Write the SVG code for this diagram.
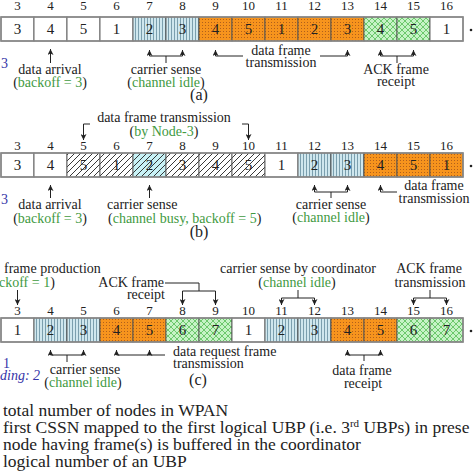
<svg xmlns="http://www.w3.org/2000/svg" width="474" height="474" viewBox="0 0 474 474" font-family="'Liberation Serif', 'Times New Roman', 'DejaVu Serif', serif">
<defs>
<style>
text{fill:#222}
.num{font-size:13px;text-anchor:middle}
.cv{font-size:15px;text-anchor:middle}
.lab{font-size:14px}
.m{text-anchor:middle}
.e{text-anchor:end}
.g{fill:#3f9a3f}
.b{fill:#3434a8}
.cap{font-size:16px;text-anchor:middle}
.leg{font-size:17.5px}
.cell rect{stroke:#555;stroke-width:0.9}
.frame{fill:none;stroke:#8a8a8a;stroke-width:1.6}
.conn path{fill:none;stroke:#222;stroke-width:1}
.w{fill:#fff}.s{fill:url(#pS)}.o{fill:url(#pO)}.gr{fill:url(#pG)}.h{fill:url(#pH)}.ch{fill:url(#pC)}
</style>
<pattern id="pS" width="3" height="3" patternUnits="userSpaceOnUse"><rect width="3" height="3" fill="#cfe7ee"/><rect width="1" height="3" fill="#7b9fae"/></pattern>
<pattern id="pO" width="3" height="3" patternUnits="userSpaceOnUse"><rect width="3" height="3" fill="#f7941d"/><rect x="1" y="1" width="1" height="1" fill="#b0601c"/></pattern>
<pattern id="pG" width="6" height="6" patternUnits="userSpaceOnUse"><rect width="6" height="6" fill="#c6f3c6"/><path d="M0,0 L6,6 M6,0 L0,6" stroke="#6cc86c" stroke-width="1"/></pattern>
<pattern id="pH" width="6" height="6" patternUnits="userSpaceOnUse"><rect width="6" height="6" fill="#fff"/><path d="M-1,1 L1,-1 M0,6 L6,0 M5,7 L7,5" stroke="#222" stroke-width="0.9"/></pattern>
<pattern id="pC" width="6" height="6" patternUnits="userSpaceOnUse"><rect width="6" height="6" fill="#c8f2f6"/><path d="M-1,1 L1,-1 M0,6 L6,0 M5,7 L7,5" stroke="#222" stroke-width="0.9"/></pattern>
<marker id="ah" viewBox="0 0 8 8" refX="8" refY="4" markerWidth="6" markerHeight="6" markerUnits="userSpaceOnUse" orient="auto-start-reverse"><path d="M0,0 L8,4 L0,8 L2,4 z" fill="#222"/></marker>
</defs>
<rect width="474" height="474" fill="#fff"/>

<!-- Row (a) -->
<g id="row-a">
<g class="num-labels">
<text class="num" x="17.5" y="10">3</text><text class="num" x="50.5" y="10">4</text><text class="num" x="83.5" y="10">5</text><text class="num" x="116.5" y="10">6</text><text class="num" x="149.5" y="10">7</text><text class="num" x="182.5" y="10">8</text><text class="num" x="215.5" y="10">9</text><text class="num" x="248.5" y="10">10</text><text class="num" x="281.5" y="10">11</text><text class="num" x="314.5" y="10">12</text><text class="num" x="347.5" y="10">13</text><text class="num" x="380.5" y="10">14</text><text class="num" x="413.5" y="10">15</text><text class="num" x="446.5" y="10">16</text>
</g>
<g id="a3" class="cell"><rect class="w" x="1" y="17" width="33" height="24"/><text class="cv" x="17.5" y="34">3</text></g>
<g id="a4" class="cell"><rect class="w" x="34" y="17" width="33" height="24"/><text class="cv" x="50.5" y="34">4</text></g>
<g id="a5" class="cell"><rect class="w" x="67" y="17" width="33" height="24"/><text class="cv" x="83.5" y="34">5</text></g>
<g id="a6" class="cell"><rect class="w" x="100" y="17" width="33" height="24"/><text class="cv" x="116.5" y="34">1</text></g>
<g id="a7" class="cell"><rect class="s" x="133" y="17" width="33" height="24"/><text class="cv" x="149.5" y="34">2</text></g>
<g id="a8" class="cell"><rect class="s" x="166" y="17" width="33" height="24"/><text class="cv" x="182.5" y="34">3</text></g>
<g id="a9" class="cell"><rect class="o" x="199" y="17" width="33" height="24"/><text class="cv" x="215.5" y="34">4</text></g>
<g id="a10" class="cell"><rect class="o" x="232" y="17" width="33" height="24"/><text class="cv" x="248.5" y="34">5</text></g>
<g id="a11" class="cell"><rect class="o" x="265" y="17" width="33" height="24"/><text class="cv" x="281.5" y="34">1</text></g>
<g id="a12" class="cell"><rect class="o" x="298" y="17" width="33" height="24"/><text class="cv" x="314.5" y="34">2</text></g>
<g id="a13" class="cell"><rect class="o" x="331" y="17" width="33" height="24"/><text class="cv" x="347.5" y="34">3</text></g>
<g id="a14" class="cell"><rect class="gr" x="364" y="17" width="33" height="24"/><text class="cv" x="380.5" y="34">4</text></g>
<g id="a15" class="cell"><rect class="gr" x="397" y="17" width="33" height="24"/><text class="cv" x="413.5" y="34">5</text></g>
<g id="a16" class="cell"><rect class="w" x="430" y="17" width="33" height="24"/><text class="cv" x="446.5" y="34">1</text></g>
<rect class="frame" x="1" y="17" width="462" height="24"/>
<circle cx="471" cy="30" r="1.3" fill="#222"/>
</g>

<!-- Row (b) -->
<g id="row-b">
<g class="num-labels">
<text class="num" x="17.5" y="150">3</text><text class="num" x="50.5" y="150">4</text><text class="num" x="83.5" y="150">5</text><text class="num" x="116.5" y="150">6</text><text class="num" x="149.5" y="150">7</text><text class="num" x="182.5" y="150">8</text><text class="num" x="215.5" y="150">9</text><text class="num" x="248.5" y="150">10</text><text class="num" x="281.5" y="150">11</text><text class="num" x="314.5" y="150">12</text><text class="num" x="347.5" y="150">13</text><text class="num" x="380.5" y="150">14</text><text class="num" x="413.5" y="150">15</text><text class="num" x="446.5" y="150">16</text>
</g>
<g id="b3" class="cell"><rect class="w" x="1" y="153" width="33" height="24"/><text class="cv" x="17.5" y="170">3</text></g>
<g id="b4" class="cell"><rect class="w" x="34" y="153" width="33" height="24"/><text class="cv" x="50.5" y="170">4</text></g>
<g id="b5" class="cell"><rect class="h" x="67" y="153" width="33" height="24"/><text class="cv" x="83.5" y="170">5</text></g>
<g id="b6" class="cell"><rect class="h" x="100" y="153" width="33" height="24"/><text class="cv" x="116.5" y="170">1</text></g>
<g id="b7" class="cell"><rect class="ch" x="133" y="153" width="33" height="24"/><text class="cv" x="149.5" y="170">2</text></g>
<g id="b8" class="cell"><rect class="h" x="166" y="153" width="33" height="24"/><text class="cv" x="182.5" y="170">3</text></g>
<g id="b9" class="cell"><rect class="h" x="199" y="153" width="33" height="24"/><text class="cv" x="215.5" y="170">4</text></g>
<g id="b10" class="cell"><rect class="h" x="232" y="153" width="33" height="24"/><text class="cv" x="248.5" y="170">5</text></g>
<g id="b11" class="cell"><rect class="w" x="265" y="153" width="33" height="24"/><text class="cv" x="281.5" y="170">1</text></g>
<g id="b12" class="cell"><rect class="s" x="298" y="153" width="33" height="24"/><text class="cv" x="314.5" y="170">2</text></g>
<g id="b13" class="cell"><rect class="s" x="331" y="153" width="33" height="24"/><text class="cv" x="347.5" y="170">3</text></g>
<g id="b14" class="cell"><rect class="o" x="364" y="153" width="33" height="24"/><text class="cv" x="380.5" y="170">4</text></g>
<g id="b15" class="cell"><rect class="o" x="397" y="153" width="33" height="24"/><text class="cv" x="413.5" y="170">5</text></g>
<g id="b16" class="cell"><rect class="o" x="430" y="153" width="33" height="24"/><text class="cv" x="446.5" y="170">1</text></g>
<rect class="frame" x="1" y="153" width="462" height="24"/>
<circle cx="471" cy="166" r="1.3" fill="#222"/>
</g>

<!-- Row (c) -->
<g id="row-c">
<g class="num-labels">
<text class="num" x="17.5" y="315">3</text><text class="num" x="50.5" y="315">4</text><text class="num" x="83.5" y="315">5</text><text class="num" x="116.5" y="315">6</text><text class="num" x="149.5" y="315">7</text><text class="num" x="182.5" y="315">8</text><text class="num" x="215.5" y="315">9</text><text class="num" x="248.5" y="315">10</text><text class="num" x="281.5" y="315">11</text><text class="num" x="314.5" y="315">12</text><text class="num" x="347.5" y="315">13</text><text class="num" x="380.5" y="315">14</text><text class="num" x="413.5" y="315">15</text><text class="num" x="446.5" y="315">16</text>
</g>
<g id="c3" class="cell"><rect class="w" x="1" y="318" width="33" height="24"/><text class="cv" x="17.5" y="335">1</text></g>
<g id="c4" class="cell"><rect class="s" x="34" y="318" width="33" height="24"/><text class="cv" x="50.5" y="335">2</text></g>
<g id="c5" class="cell"><rect class="s" x="67" y="318" width="33" height="24"/><text class="cv" x="83.5" y="335">3</text></g>
<g id="c6" class="cell"><rect class="o" x="100" y="318" width="33" height="24"/><text class="cv" x="116.5" y="335">4</text></g>
<g id="c7" class="cell"><rect class="o" x="133" y="318" width="33" height="24"/><text class="cv" x="149.5" y="335">5</text></g>
<g id="c8" class="cell"><rect class="gr" x="166" y="318" width="33" height="24"/><text class="cv" x="182.5" y="335">6</text></g>
<g id="c9" class="cell"><rect class="gr" x="199" y="318" width="33" height="24"/><text class="cv" x="215.5" y="335">7</text></g>
<g id="c10" class="cell"><rect class="w" x="232" y="318" width="33" height="24"/><text class="cv" x="248.5" y="335">1</text></g>
<g id="c11" class="cell"><rect class="s" x="265" y="318" width="33" height="24"/><text class="cv" x="281.5" y="335">2</text></g>
<g id="c12" class="cell"><rect class="s" x="298" y="318" width="33" height="24"/><text class="cv" x="314.5" y="335">3</text></g>
<g id="c13" class="cell"><rect class="o" x="331" y="318" width="33" height="24"/><text class="cv" x="347.5" y="335">4</text></g>
<g id="c14" class="cell"><rect class="o" x="364" y="318" width="33" height="24"/><text class="cv" x="380.5" y="335">5</text></g>
<g id="c15" class="cell"><rect class="gr" x="397" y="318" width="33" height="24"/><text class="cv" x="413.5" y="335">6</text></g>
<g id="c16" class="cell"><rect class="gr" x="430" y="318" width="33" height="24"/><text class="cv" x="446.5" y="335">7</text></g>
<rect class="frame" x="1" y="318" width="462" height="24"/>
<circle cx="471" cy="331" r="1.3" fill="#222"/>
</g>

<!-- Connectors -->
<g id="connectors" class="conn">
<path d="M50.5,63 V49" marker-end="url(#ah)"/>
<path d="M149.5,50 V56 H182.5 V50" marker-start="url(#ah)" marker-end="url(#ah)"/>
<path d="M166,56 V63"/>
<path d="M243,56 H215.5 V50" marker-end="url(#ah)"/>
<path d="M320,56 H347.5 V50" marker-end="url(#ah)"/>
<path d="M380.5,50 V56 H413.5 V50" marker-start="url(#ah)" marker-end="url(#ah)"/>
<path d="M397,56 V63"/>

<path d="M90,124 H83.5 V140" marker-end="url(#ah)"/>
<path d="M242,124 H248.5 V140" marker-end="url(#ah)"/>
<path d="M50.5,198 V185" marker-end="url(#ah)"/>
<path d="M149.5,198 V185" marker-end="url(#ah)"/>
<path d="M314.5,185 V192 H347.5 V185" marker-start="url(#ah)" marker-end="url(#ah)"/>
<path d="M331,192 V198"/>
<path d="M397,192 H380.5 V185" marker-end="url(#ah)"/>

<path d="M17.5,290 V305" marker-end="url(#ah)"/>
<path d="M165,283 H199 V291"/>
<path d="M182.5,305 V291 H215.5 V305" marker-start="url(#ah)" marker-end="url(#ah)"/>
<path d="M298,290 V298"/>
<path d="M281.5,305 V298 H314.5 V305" marker-start="url(#ah)" marker-end="url(#ah)"/>
<path d="M430,290 V298"/>
<path d="M413.5,305 V298 H446.5 V305" marker-start="url(#ah)" marker-end="url(#ah)"/>

<path d="M50.5,350 V355 H83.5 V350" marker-start="url(#ah)" marker-end="url(#ah)"/>
<path d="M67,355 V362"/>
<path d="M165,355 H116.5 V350" marker-end="url(#ah)"/>
<path d="M149.5,355 V350" marker-end="url(#ah)"/>
<path d="M347.5,350 V355 H380.5 V350" marker-start="url(#ah)" marker-end="url(#ah)"/>
<path d="M364,355 V361"/>
</g>

<!-- Labels (a) -->
<g id="labels-a">
<text class="lab b" x="1" y="68">3</text>
<text class="lab m" x="50" y="74">data arrival</text>
<text class="lab m" x="50" y="87">(<tspan class="g">backoff = 3</tspan>)</text>
<text class="lab m" x="166" y="74">carrier sense</text>
<text class="lab m" x="166" y="87">(<tspan class="g">channel idle</tspan>)</text>
<text class="lab m" x="281" y="55">data frame</text>
<text class="lab m" x="281" y="67">transmission</text>
<text class="lab m" x="396" y="74">ACK frame</text>
<text class="lab m" x="396" y="86">receipt</text>
<text class="cap" x="199" y="100">(a)</text>
</g>

<!-- Labels (b) -->
<g id="labels-b">
<text class="lab m" x="164" y="122">data frame transmission</text>
<text class="lab m" x="164" y="136">(<tspan class="g">by Node-3</tspan>)</text>
<text class="lab b" x="1" y="204">3</text>
<text class="lab m" x="50" y="209">data arrival</text>
<text class="lab m" x="50" y="223">(<tspan class="g">backoff = 3</tspan>)</text>
<text class="lab" x="107" y="209">carrier sense</text>
<text class="lab" x="108" y="223">(<tspan class="g">channel busy, backoff = 5</tspan>)</text>
<text class="lab m" x="331" y="209">carrier sense</text>
<text class="lab m" x="331" y="222">(<tspan class="g">channel idle</tspan>)</text>
<text class="lab m" x="434" y="190">data frame</text>
<text class="lab m" x="434" y="203">transmission</text>
<text class="cap" x="199" y="237">(b)</text>
</g>

<!-- Labels (c) -->
<g id="labels-c">
<text class="lab" x="4" y="273">frame production</text>
<text class="lab" x="-1" y="287"><tspan class="g">ckoff = 1</tspan>)</text>
<text class="lab e" x="164" y="287">ACK frame</text>
<text class="lab e" x="165" y="299">receipt</text>
<text class="lab m" x="298" y="273">carrier sense by coordinator</text>
<text class="lab m" x="297" y="287">(<tspan class="g">channel idle</tspan>)</text>
<text class="lab m" x="429" y="273">ACK frame</text>
<text class="lab m" x="430" y="287">transmission</text>
<text class="lab m" x="85" y="374">carrier sense</text>
<text class="lab m" x="83" y="387">(<tspan class="g">channel idle</tspan>)</text>
<text class="lab" x="173" y="356">data request frame</text>
<text class="lab" x="173" y="368">transmission</text>
<text class="lab m" x="362" y="375">data frame</text>
<text class="lab m" x="363" y="388">receipt</text>
<text class="lab b" x="3" y="368">1</text>
<text class="lab b" x="0" y="380" font-style="italic">ding: 2</text>
<text class="cap" x="198" y="385">(c)</text>
</g>

<!-- Legend -->
<g id="legend">
<text class="leg" x="3" y="416">total number of nodes in WPAN</text>
<text class="leg" x="3" y="433">first CSSN mapped to the first logical UBP (i.e. 3<tspan font-size="11" dy="-6">rd</tspan><tspan dy="6"> UBPs) in prese</tspan></text>
<text class="leg" x="3" y="450">node having frame(s) is buffered in the coordinator</text>
<text class="leg" x="3" y="467">logical number of an UBP</text>
</g>
</svg>
